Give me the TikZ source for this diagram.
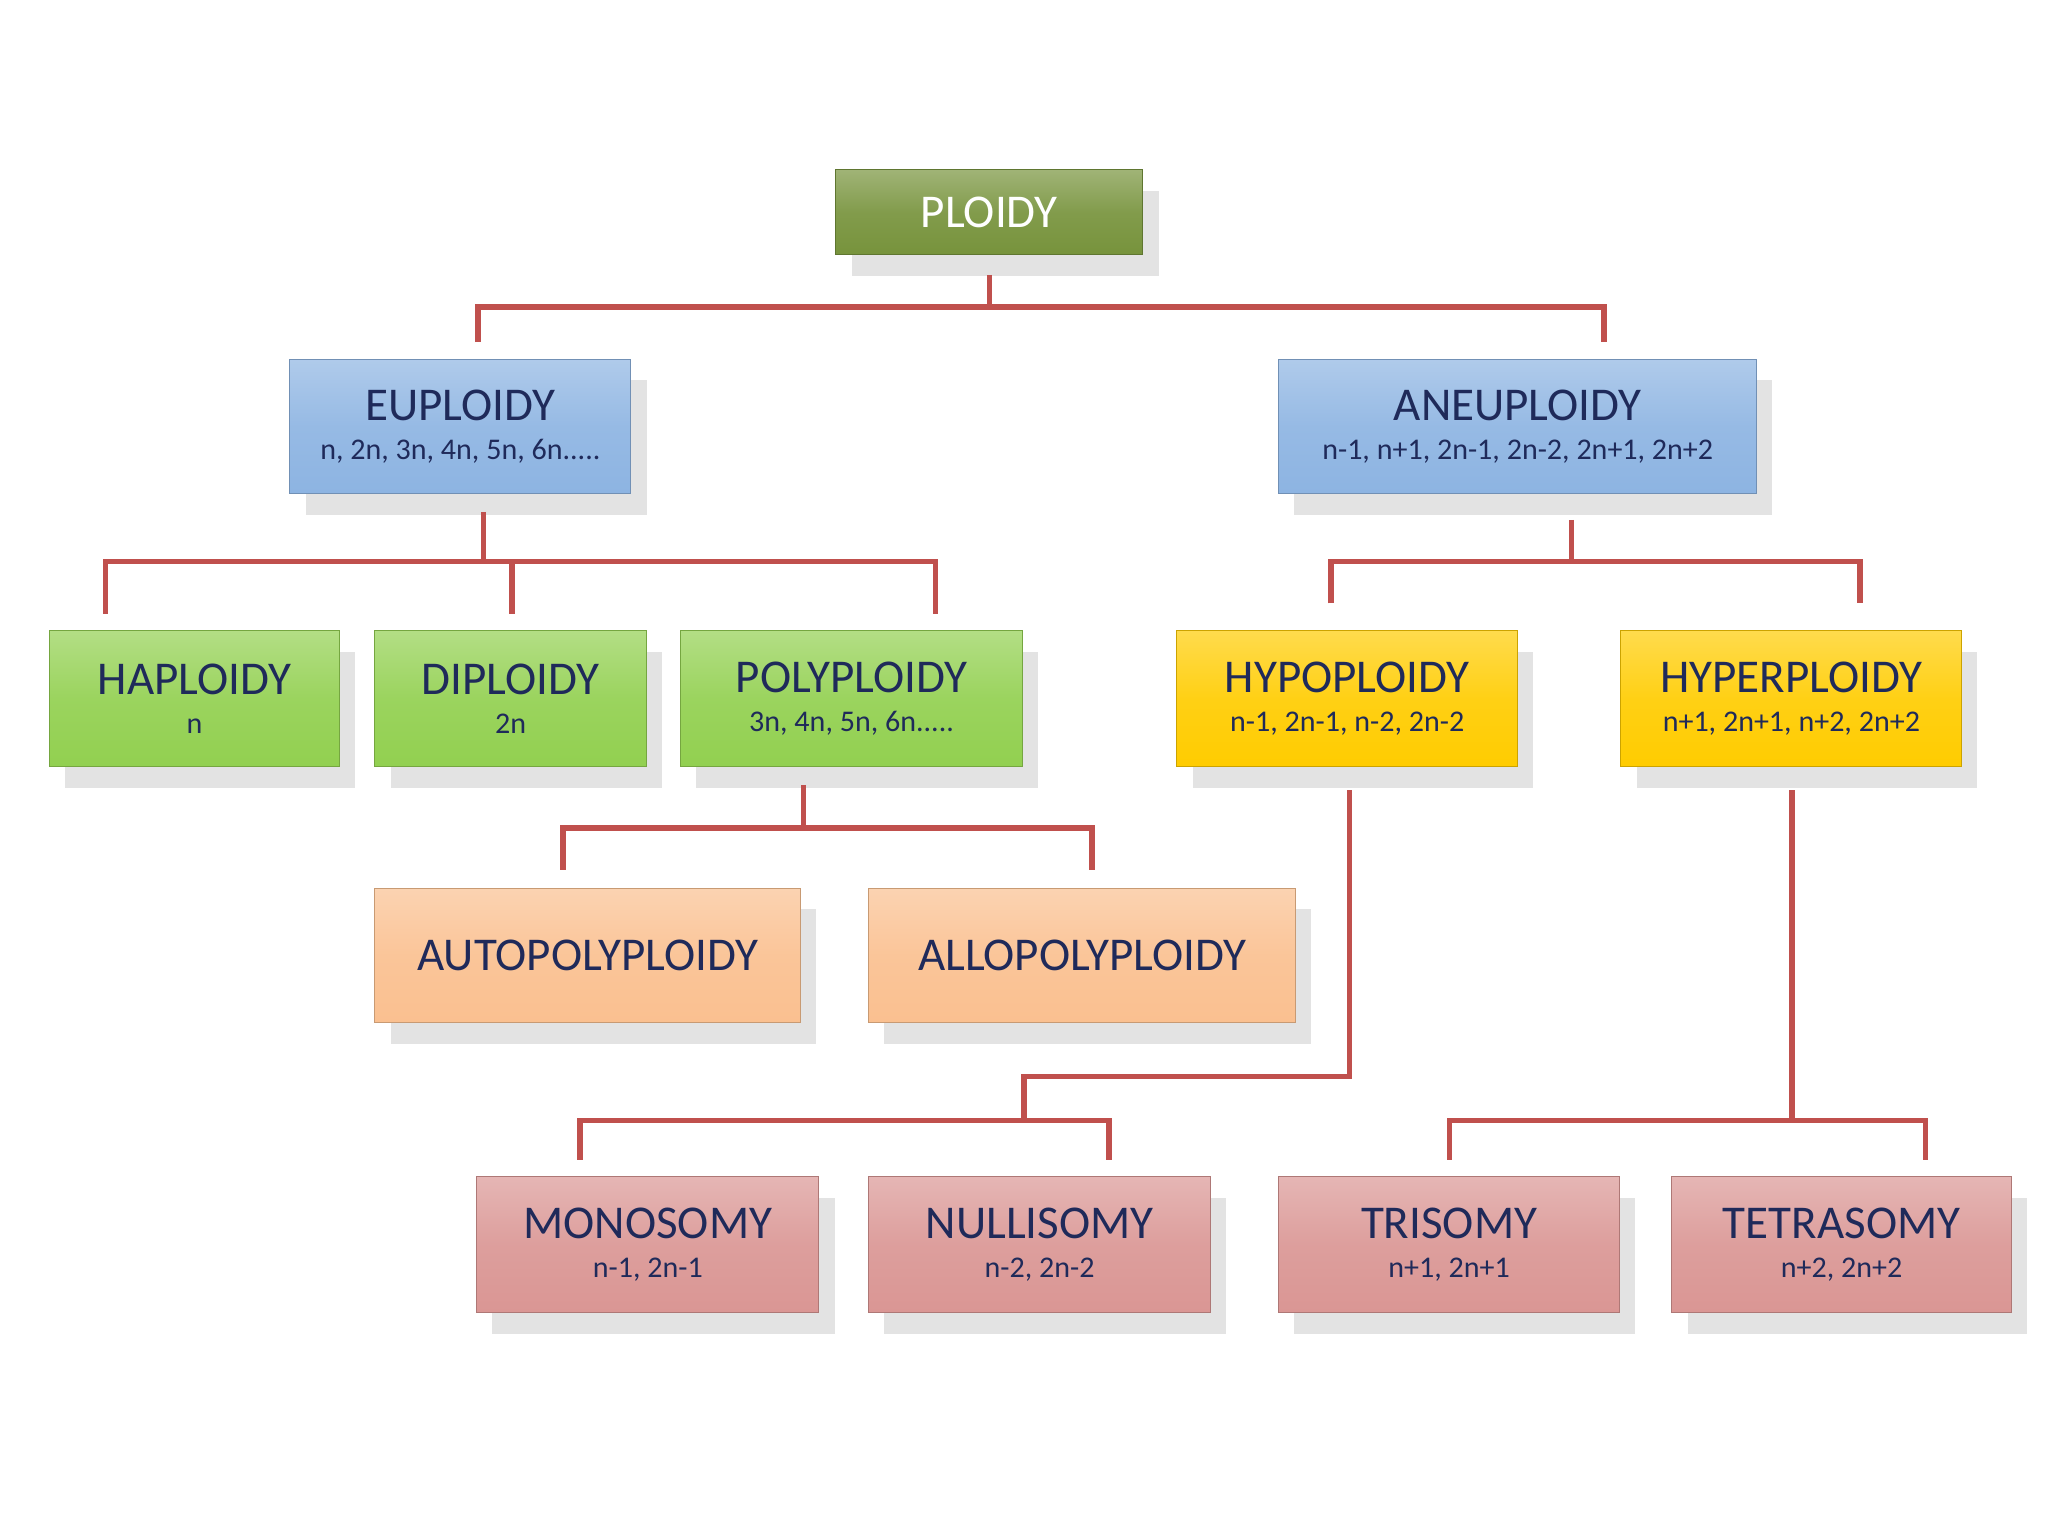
\documentclass[tikz,border=0pt]{standalone}
\usepackage{fontspec}
\setmainfont{Carlito}
\usetikzlibrary{shadows}
\definecolor{txt}{HTML}{1F2A5A}
\definecolor{lnk}{HTML}{C0504D}
\definecolor{olive}{HTML}{77933C}
\definecolor{bl}{HTML}{8DB4E2}
\definecolor{gr}{HTML}{92D050}
\definecolor{ye}{HTML}{FFCC00}
\definecolor{pe}{HTML}{FAC090}
\definecolor{pk}{HTML}{DA9694}
\tikzset{
 bx/.style={rectangle, inner sep=0pt, align=center, text=txt, font=\fontsize{18}{18}\selectfont,
   top color=#1!70!white, bottom color=#1, middle color=#1!92!white,
   draw=#1!80!black, line width=0.4pt,
   drop shadow={shadow xshift=6pt, shadow yshift=-8pt, opacity=0.18, fill=black!60}},
 lk/.style={draw=lnk, line width=2pt}
}
\newcommand{\twol}[2]{#1\\[-3pt]{\fontsize{11.5}{11.5}\selectfont #2}}
\begin{document}
\begin{tikzpicture}[x=0.5pt,y=-0.5pt]
\useasboundingbox (0,0) rectangle (1568,1176);
\fill[white] (0,0) rectangle (1568,1176);
\tikzset{sz/.style 2 args={minimum width=#1*0.5pt, minimum height=#2*0.5pt}}
\node[bx=olive, sz={235}{65}, text=white] (pl) at (757.5,162.5) {PLOIDY};
\node[bx=bl, sz={261}{103}] (eu) at (352.5,326.5) {\twol{EUPLOIDY}{n, 2n, 3n, 4n, 5n, 6n.....}};
\node[bx=bl, sz={366}{103}] (an) at (1162,326.5) {\twol{ANEUPLOIDY}{n-1, n+1, 2n-1, 2n-2, 2n+1, 2n+2}};
\node[bx=gr, sz={222}{104}] (ha) at (149,535) {\twol{HAPLOIDY}{n}};
\node[bx=gr, sz={208}{104}] (di) at (391,535) {\twol{DIPLOIDY}{2n}};
\node[bx=gr, sz={262}{104}] (po) at (652,535) {\twol{POLYPLOIDY}{3n, 4n, 5n, 6n.....}};
\node[bx=ye, sz={261}{104}] (hy) at (1031.5,535) {\twol{HYPOPLOIDY}{n-1, 2n-1, n-2, 2n-2}};
\node[bx=ye, sz={261}{104}] (he) at (1371.5,535) {\twol{HYPERPLOIDY}{n+1, 2n+1, n+2, 2n+2}};
\node[bx=pe, sz={326}{103}] (au) at (450,731.5) {AUTOPOLYPLOIDY};
\node[bx=pe, sz={327}{103}] (al) at (828.5,731.5) {ALLOPOLYPLOIDY};
\node[bx=pk, sz={262}{104}] (mo) at (496,953) {\twol{MONOSOMY}{n-1, 2n-1}};
\node[bx=pk, sz={262}{104}] (nu) at (796,953) {\twol{NULLISOMY}{n-2, 2n-2}};
\node[bx=pk, sz={261}{104}] (tr) at (1109.5,953) {\twol{TRISOMY}{n+1, 2n+1}};
\node[bx=pk, sz={260}{104}] (te) at (1410,953) {\twol{TETRASOMY}{n+2, 2n+2}};
% connectors
\draw[lk] ([yshift=-7.5pt]pl.south) -- ++(0,25) coordinate (p1);
\draw[lk] (366,262) -- (366,235) -- (1228,235) -- (1228,262);
\draw[lk] (370,392) -- (370,430);
\draw[lk] (81,470) -- (81,430) -- (716,430) -- (716,470);
\draw[lk] (392,430) -- (392,470);
\draw[lk] (1203,398) -- (1203,430);
\draw[lk] (1019,462) -- (1019,430) -- (1424,430) -- (1424,462);
\draw[lk] (615,601) -- (615,634);
\draw[lk] (431,666) -- (431,634) -- (836,634) -- (836,666);
\draw[lk] (1033,605) -- (1033,824) -- (784,824) -- (784,858);
\draw[lk] (444,888) -- (444,858) -- (849,858) -- (849,888);
\draw[lk] (1372,605) -- (1372,858);
\draw[lk] (1110,888) -- (1110,858) -- (1474,858) -- (1474,888);
\end{tikzpicture}
\end{document}
